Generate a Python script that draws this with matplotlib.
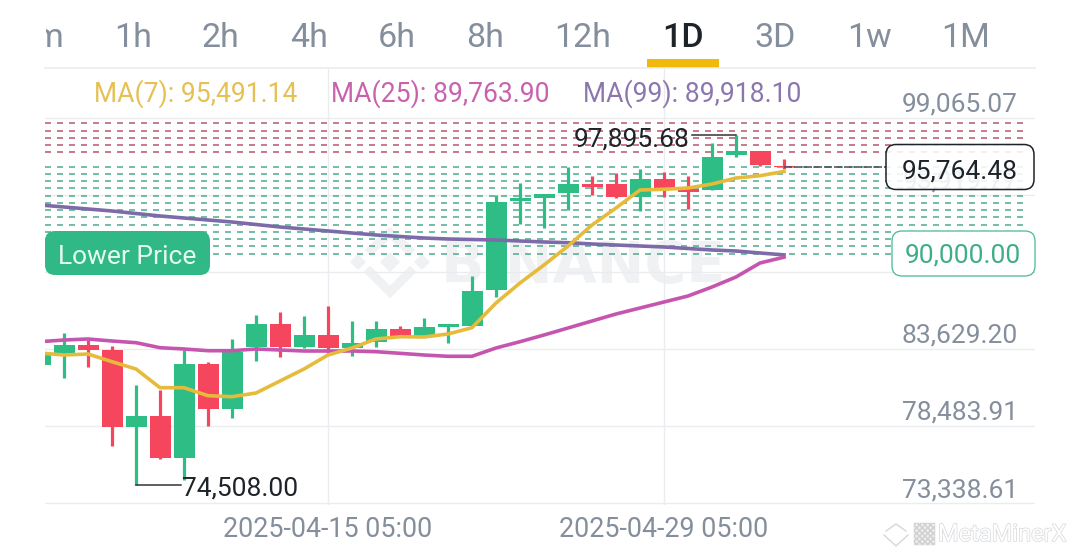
import matplotlib
matplotlib.use("Agg")
import matplotlib.pyplot as plt
import matplotlib.patheffects as pe
import matplotlib.transforms as mtrans
from matplotlib.lines import Line2D
from matplotlib.patches import FancyBboxPatch, Polygon, Rectangle

plt.rcParams['font.family'] = ['Roboto', 'DejaVu Sans']
plt.rcParams['lines.scale_dashes'] = False

# ---------- data ----------
opens = [82560, 83382, 83896, 83562, 78437, 79152, 76345, 82627, 79640, 83762, 85299, 83783,
         84584, 83696, 84077, 84965, 84518, 85119, 85186, 87571, 93499, 93719, 94053, 94654,
         94654, 93806, 95008, 94320, 94253, 96572, 96879, 95857]
highs = [83228, 84718, 84230, 83830, 81223, 80889, 83562, 82760, 84297, 85901, 86101, 85834,
         86502, 85500, 85480, 85166, 85700, 85299, 88507, 93919, 94741, 93986, 95790, 95209,
         95389, 95656, 95476, 95209, 97414, 97895.68, 96879, 96325]
lows = [82560, 81711, 82426, 77167, 74508, 76279, 74875, 78484, 79018, 82827, 83094, 83716,
        83382, 83161, 83783, 84431, 84431, 84030, 85166, 87124, 91981, 91714, 92917, 93919,
        93719, 92870, 93806, 92984, 94253, 96438, 95857, 95656]
closes = [83228, 83896, 83562, 78437, 79152, 76345, 82627, 79640, 83428, 85299, 83783, 84584,
          83696, 84050, 84965, 84518, 85079, 85299, 87525, 93452, 93719, 93986, 94654, 94474,
          93806, 95008, 94387, 94140, 96479, 96879, 95924, 95764.48]
ma7 = [83362, 83228, 83295, 82780, 82292, 81043, 81043, 80508, 80442, 80689, 81491, 82292,
       83228, 83696, 84297, 84451, 84431, 84631, 85052, 86703, 88039, 89242, 90511, 91914,
       93051, 94253, 94300, 94387, 94654, 95055, 95209, 95491.14]
ma25 = [84117, 84230, 84297, 84163, 84050, 83716, 83629, 83515, 83515, 83629, 83562, 83495,
        83495, 83495, 83449, 83341, 83228, 83141, 83141, 83696, 84117, 84564, 85032, 85500,
        85967, 86368, 86769, 87170, 87771, 88440, 89375, 89763.90]
ma99 = [93251, 93117, 92984, 92850, 92683, 92516, 92383, 92249, 92115, 91948, 91781, 91648,
        91514, 91380, 91247, 91146, 91046, 90979, 90946, 90912, 90846, 90779, 90732, 90645,
        90578, 90511, 90445, 90345, 90244, 90177, 90044, 89918.10]
grid_upper = [96776, 97260, 97744, 98228, 98712]
grid_lower = [90000, 90484, 90968, 91452, 91936, 92420, 92904, 93388, 93872, 94356, 94840,
              95324, 95808]
price_ticks = [73338.61, 78483.91, 83629.20, 88774.49, 93919.77, 99065.07]
price_tick_labels = ['73,338.61', '78,483.91', '83,629.20', '', '93,919.77', '99,065.07']
date_ticks = [12, 26]
date_labels = ['2025-04-15 05:00', '2025-04-29 05:00']
tabs = ['1h', '2h', '4h', '6h', '8h', '12h', '1D', '3D', '1w', '1M']
last_price = 95764.48
grid_lower_price = 90000.00
period_high = 97895.68
period_low = 74508.00

# ---------- colours ----------
GREEN = '#2ebd85'
RED = '#f6465d'
GREY = '#848e9c'
DARK = '#1e2329'
GRID = '#eaecef'
C7, C25, C99 = '#e6bb3c', '#c655b0', '#7d6aa8'
LBL7, LBL25, LBL99 = '#e5c052', '#c862ae', '#8b77ae'

W, H = 1080, 556
fig = plt.figure(figsize=(W / 100, H / 100), dpi=100, facecolor='white')
ax = fig.add_axes([45 / W, (H - 505) / H, 990 / W, 437 / H], facecolor='none')
ax.patch.set_visible(False)


def P(x, y):
    return x / W, 1 - y / H


def ftext(x, y, s, **kw):
    fx, fy = P(x, y)
    kw.setdefault('va', 'baseline')
    return fig.text(fx, fy, s, **kw)


# ---------- background decoration (watermark under the chart) ----------
WM = '#f0f1f2'
for pts in ([(371, 250), (390, 233), (409, 250)], [(370, 272), (390, 292), (410, 272)]):
    fig.add_artist(Line2D([p[0] / W for p in pts], [1 - p[1] / H for p in pts], color=WM,
                          lw=9 * 0.72, zorder=-1, solid_joinstyle='miter'))
for cx, cy, r in [(390, 262, 10), (358, 262, 8), (422, 262, 8)]:
    fig.add_artist(Polygon([P(cx - r, cy), P(cx, cy - r), P(cx + r, cy), P(cx, cy + r)],
                           closed=True, transform=fig.transFigure, fc=WM, ec='none', zorder=-1))
ftext(441, 283, 'BINANCE', fontsize=41, fontweight='bold', color=WM, zorder=-1,
      family='DejaVu Sans')

# ---------- axes ----------
ax.set_xlim(5 / 24, 995 / 24)
ax.set_ylim(73205, 102405)
for s in ax.spines.values():
    s.set_visible(False)
ax.set_axisbelow(True)
ax.grid(True, color=GRID, lw=1.0)

ax.yaxis.tick_right()
ax.set_yticks(price_ticks)
ax.set_yticklabels(price_tick_labels)
ax.tick_params(axis='y', length=0, pad=-17 * 0.72, labelsize=19, labelcolor=GREY)
lift = mtrans.ScaledTranslation(0, 6 / 100, fig.dpi_scale_trans)
for lab in ax.get_yticklabels():
    lab.set_ha('right')
    lab.set_va('baseline')
    lab.set_transform(lab.get_transform() + lift)
ax.set_xticks(date_ticks)
ax.set_xticklabels(date_labels)
ax.tick_params(axis='x', length=0, pad=8, labelsize=19.4, labelcolor=GREY)

# grid-trading levels
dash = (0, (6 * 0.72, 6 * 0.72))
x_end = (1024 - 40) / 24
for lv in grid_upper:
    ax.plot([5 / 24, x_end], [lv, lv], color='#b5566f', lw=1.1, ls=dash, zorder=1.5)
for lv in grid_lower:
    ax.plot([5 / 24, x_end], [lv, lv], color='#4fa98f', lw=1.1, ls=dash, zorder=1.5)

# candles
for i, (o, h, l, c) in enumerate(zip(opens, highs, lows, closes)):
    col = GREEN if c >= o else RED
    ax.vlines(i, l, h, color=col, lw=3.2 * 0.72, zorder=3)
    ax.bar(i, abs(c - o), bottom=min(o, c), width=0.875, color=col, zorder=3)

xs = list(range(len(ma7)))
ax.plot(xs, ma99, color=C99, lw=3.6 * 0.72, zorder=4)
ax.plot(xs, ma25, color=C25, lw=3.6 * 0.72, zorder=4.1)
ax.plot(xs, ma7, color=C7, lw=3.6 * 0.72, zorder=4.2)

# last price dashed line
ax.plot([31, (886 - 40) / 24], [last_price, last_price], color='#474d57', lw=1.1,
        ls=(0, (8 * 0.72, 2 * 0.72)), zorder=5)

# high / low markers
ilow = lows.index(period_low)
ihigh = highs.index(period_high)
ax.plot([ilow, ilow + 45 / 24], [period_low, period_low], color='#333', lw=1.1, zorder=5)
ax.plot([ihigh - 44 / 24, ihigh], [period_high, period_high], color='#333', lw=1.1, zorder=5)
ax.text(ilow + 46 / 24, period_low - 10.5 * 66.82, f'{period_low:,.2f}', fontsize=19, color=DARK,
        ha='left', va='baseline', zorder=6)
ax.text(ihigh - 46 / 24, period_high - 11.5 * 66.82, f'{period_high:,.2f}', fontsize=19, color=DARK,
        ha='right', va='baseline', zorder=6)

# ---------- header ----------
tab_x = [133.5, 220, 309, 397, 485, 583, 683, 775, 869, 966]
for x, s in zip(tab_x, tabs):
    active = s == '1D'
    ftext(x, 47, s, fontsize=24.5, color=DARK if active else GREY, ha='center',
          fontweight='medium' if active else 'normal')
clip = mtrans.Bbox([[46, 0], [W, H]])
ftext(64, 47, 'm', fontsize=24.5, color=GREY, ha='right', clip_on=True, clip_box=clip)
fig.add_artist(Rectangle(P(647, 68), 72 / W, 9.5 / H, transform=fig.transFigure, fc='#f0b90b', ec='none'))
fig.add_artist(Line2D([45 / W, 1035 / W], [1 - 67.5 / H] * 2, color=GRID, lw=1.2))

ftext(94, 102, f'MA(7): {ma7[-1]:,.2f}', fontsize=19.1, color=LBL7)
ftext(331, 102, f'MA(25): {ma25[-1]:,.2f}', fontsize=19.1, color=LBL25)
ftext(583, 102, f'MA(99): {ma99[-1]:,.2f}', fontsize=19.1, color=LBL99)


# ---------- boxes ----------
def box(x0, y0, x1, y1, fc, ec, lw, r=10):
    p = FancyBboxPatch((x0 / 100, (H - y1) / 100), (x1 - x0) / 100, (y1 - y0) / 100,
                       boxstyle=f'round,pad=0,rounding_size={r / 100}',
                       transform=fig.dpi_scale_trans, fc=fc, ec=ec, lw=lw, zorder=2)
    fig.add_artist(p)


box(886, 144.5, 1034, 189.5, (1, 1, 1, 0.88), DARK, 1.1)
ftext(1018, 179, f'{last_price:,.2f}', fontsize=19, color=DARK, ha='right', zorder=3)
box(892, 231, 1035, 276, 'white', '#45bd92', 0.9)
ftext(1021, 263, f'{grid_lower_price:,.2f}', fontsize=19, color='#3fae88', ha='right', zorder=3)
box(45, 231, 210, 275, '#30b886', 'none', 0)
ftext(58, 264, 'Lower Price', fontsize=19, color='#e4fbf2', ha='left', zorder=3)

# ---------- corner watermark ----------
WM2 = '#d5d7da'
for pts in ([(886, 531), (896, 524), (906, 531)], [(884, 535), (896, 546), (908, 535)]):
    fig.add_artist(Line2D([p[0] / W for p in pts], [1 - p[1] / H for p in pts], color=WM2, lw=1.0))
fig.add_artist(Rectangle(P(914, 545), 21 / W, 22 / H, transform=fig.transFigure, fc='#eeeeee',
                         ec='#d0d0d0', lw=0.3, hatch='xxxxxx'))
ftext(938, 541, 'MetaMinerX', fontsize=17, color='white', ha='left', zorder=3,
      path_effects=[pe.withStroke(linewidth=1.0, foreground=WM2)])

fig.savefig('out.png', dpi=100, facecolor='white')
